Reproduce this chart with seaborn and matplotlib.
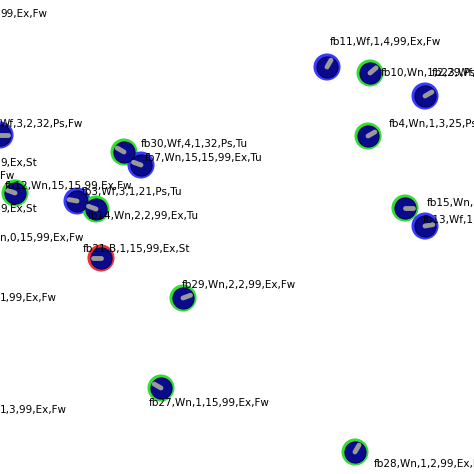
import numpy as np
import pandas as pd
import matplotlib
matplotlib.use("Agg")
import matplotlib.pyplot as plt
import seaborn as sns

# robot positions (screen coords) and ring colour
robot_x = [327, 370, 425, 368, 0, 124, 141, 15, 77, 96, 101, 405, 425, 183, 161, 355]
robot_y = [67, 73, 96, 136, 135, 152, 165, 193, 201, 209, 258, 208, 226, 298, 388, 452]
robot_ring = ["blue", "green", "blue", "green", "blue", "green", "blue", "green",
              "blue", "green", "red", "green", "blue", "green", "green", "green"]
robot_heading = [60, 40, 30, 30, 0, 150, 160, 160, 170, 160, 180, 0, 10, 20, 150, 60]

label_x = [0, 330, 381, 432, 389, 0, 141, 145, 0, 0, 5, 0, 82, 88, 0, 83, 427, 423, 182, 0, 149, 0, 374]
label_y = [14, 42, 73, 73, 124, 124, 144, 158, 163, 176, 186, 209, 192, 216, 238, 249, 203, 220, 285, 298, 403, 410, 464]
label_text = ["99,Ex,Fw", "fb11,Wf,1,4,99,Ex,Fw", "fb10,Wn,1,2,29,Ps", "fb23,Wf,", "fb4,Wn,1,3,25,Ps",
              "Wf,3,2,32,Ps,Fw", "fb30,Wf,4,1,32,Ps,Tu", "fb7,Wn,15,15,99,Ex,Tu", "9,Ex,St", "Fw",
              "fb12,Wn,15,15,99,Ex,Fw", "9,Ex,St", "fb3,Wf,3,1,21,Ps,Tu", "fb14,Wn,2,2,99,Ex,Tu",
              "n,0,15,99,Ex,Fw", "fb21,B,1,15,99,Ex,St", "fb15,Wn,1,1,", "fb13,Wf,1,",
              "fb29,Wn,2,2,99,Ex,Fw", "1,99,Ex,Fw", "fb27,Wn,1,15,99,Ex,Fw", "1,3,99,Ex,Fw",
              "fb28,Wn,1,2,99,Ex,Fw"]

robots = pd.DataFrame({"x": robot_x, "y": robot_y, "ring": robot_ring, "heading": robot_heading})
ring_colors = {"blue": "#3a3aff", "green": "#33dd33", "red": "#ee3333"}

sns.set_style("white")
fig = plt.figure(figsize=(4.74, 4.74), dpi=100)
ax = fig.add_axes([0, 0, 1, 1])
sns.scatterplot(data=robots, x="x", y="y", hue="ring", palette=ring_colors, s=380,
                legend=False, ax=ax, linewidth=0, zorder=2)
sns.scatterplot(data=robots, x="x", y="y", color="#0a0a8c", s=230, legend=False, ax=ax,
                linewidth=0.8, edgecolor="#000060", zorder=3)
rad = np.deg2rad(robots["heading"].to_numpy())
for xi, yi, r in zip(robots["x"], robots["y"], rad):
    ax.plot([xi, xi + 8 * np.cos(r)], [yi, yi - 8 * np.sin(r)], color="#999999", lw=3.5,
            solid_capstyle="round", zorder=4)
for xi, yi, t in zip(label_x, label_y, label_text):
    ax.text(xi, yi, t, fontsize=7.5, va="center", ha="left", color="black", zorder=5)
ax.set_xlim(0, 474)
ax.set_ylim(474, 0)
ax.axis("off")
fig.savefig("out.png", dpi=100)
